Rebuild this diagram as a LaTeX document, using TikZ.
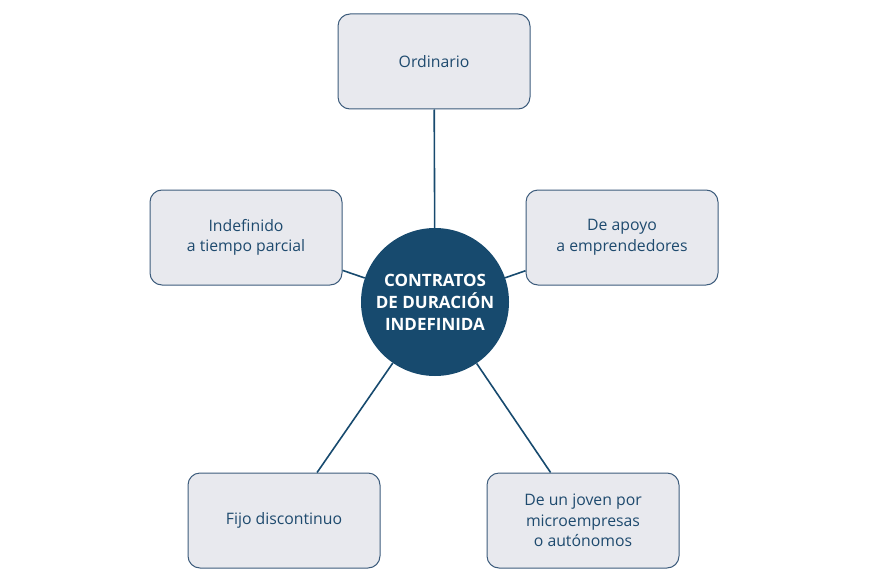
\documentclass[tikz,border=0pt]{standalone}
\usepackage{fontspec}
\setmainfont{Open Sans}
\definecolor{boxfill}{HTML}{E8E9EE}
\definecolor{boxline}{HTML}{3D5C7C}
\definecolor{txt}{HTML}{1E4A6E}
\definecolor{circ}{HTML}{174A6E}
\begin{document}
\begin{tikzpicture}[x=1pt,y=-1pt,
  item/.style={draw=boxline,fill=boxfill,line width=1pt,rounded corners=12pt,
    minimum width=192pt,minimum height=95pt,align=center,text=txt,
    font=\fontsize{15.8pt}{20.5pt}\selectfont},
  hub/.style={circle,fill=circ,minimum size=148pt,inner sep=0pt,align=center,
    text=white,font=\bfseries\fontsize{17pt}{22pt}\selectfont},
  link/.style={draw=circ,line width=1.6pt}]
\useasboundingbox (0,0) rectangle (885,583);
\node[hub] (c) at (435,302) {CONTRATOS\\DE DURACIÓN\\INDEFINIDA};
\node[item] (o) at (434,61.5) {Ordinario};
\node[item] (l) at (246,237.5) {Indefinido\\a tiempo parcial};
\node[item] (r) at (622,237.5) {De apoyo\\a emprendedores};
\node[item] (bl) at (284,520.5) {Fijo discontinuo};
\node[item] (br) at (583,520.5) {De un joven por\\microempresas\\o autónomos};
\draw[link] (c) -- (o);
\draw[link] (c) -- (l);
\draw[link] (c) -- (r);
\draw[link] (c) -- (bl);
\draw[link] (c) -- (br);
\end{tikzpicture}
\end{document}
